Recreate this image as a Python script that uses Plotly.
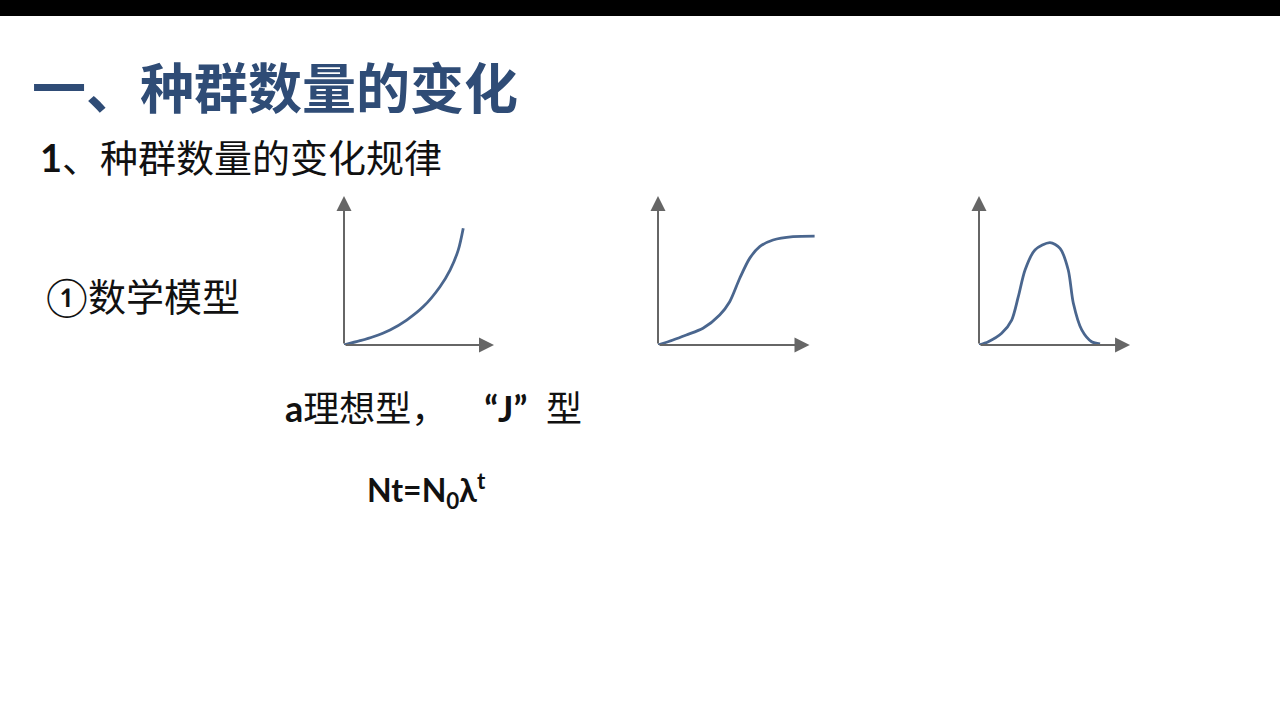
import plotly.graph_objects as go

W, H = 1280, 720

# ---- data (axis units) ----
j_x = [0, 1.07, 1.95, 3.07, 4.18, 5.29, 6.40, 7.07, 7.62, 7.95]
j_y = [0, 0.29, 0.56, 1.02, 1.69, 2.60, 3.95, 5.08, 6.44, 7.91]

s_x = [0, 1.00, 1.89, 3.00, 4.11, 4.78, 5.45, 6.11, 6.78, 7.67, 9.00, 10.44]
s_y = [0, 0.34, 0.68, 1.13, 2.03, 2.93, 4.52, 5.87, 6.66, 7.11, 7.34, 7.38]

b_x = [0, 0.62, 1.51, 2.18, 2.62, 3.07, 3.73, 4.73, 5.40, 5.95, 6.29, 6.85, 7.51, 8.07]
b_y = [0, 0.22, 0.79, 1.69, 3.27, 5.08, 6.44, 6.93, 6.55, 5.08, 2.83, 1.02, 0.22, 0.07]

title_text = "一、种群数量的变化"
subtitle_text = "<b>1</b>、种群数量的变化规律"
model_text = "①数学模型"
type_text = "<b>a</b>理想型，    <b>“J”</b>  型"
formula_text = "<b>Nt=N<sub>0</sub>λ<sup>t</sup></b>"

# ---- layout geometry ----
origins_px = [344, 658, 979]
arrow_tip_x = [10.0, 10.1, 10.07]
origin_py = 345
panel_w_px = 165
panel_h_px = 155
x_range = [0, 11]
y_range = [0, 10.5]
arrow_tip_y = 10.1

line_color = "#4a668e"
axis_color = "#666666"

fig = go.Figure()
series = [(j_x, j_y), (s_x, s_y), (b_x, b_y)]
for i, (xs, ys) in enumerate(series):
    ax_id = "" if i == 0 else str(i + 1)
    fig.add_trace(go.Scatter(
        x=xs, y=ys, mode="lines",
        line=dict(color=line_color, width=2.8, shape="spline", smoothing=0.8),
        xaxis="x" + ax_id, yaxis="y" + ax_id, showlegend=False, hoverinfo="skip"))
    ox = origins_px[i]
    xd = [ox / W, (ox + panel_w_px) / W]
    yd = [1 - origin_py / H, 1 - (origin_py - panel_h_px) / H]
    common = dict(showgrid=False, zeroline=False, showticklabels=False,
                  ticks="", showline=False, fixedrange=True)
    fig.update_layout(**{
        "xaxis" + ax_id: dict(domain=xd, range=x_range, anchor="y" + ax_id, **common),
        "yaxis" + ax_id: dict(domain=yd, range=y_range, anchor="x" + ax_id, **common),
    })
    # axes with arrowheads
    for (hx, hy) in [(arrow_tip_x[i], 0), (0, arrow_tip_y)]:
        fig.add_annotation(
            x=hx, y=hy, ax=0, ay=0,
            xref="x" + ax_id, yref="y" + ax_id,
            axref="x" + ax_id, ayref="y" + ax_id,
            showarrow=True, arrowhead=2, arrowsize=1.5, arrowwidth=2,
            arrowcolor=axis_color, text="", standoff=0, startstandoff=0)

cjk = "Lato, Noto Sans CJK SC, sans-serif"


def px_ann(text, x, y, size, color, family=cjk):
    fig.add_annotation(text=text, x=x / W, y=1 - y / H, xref="paper", yref="paper",
                       xanchor="left", yanchor="middle", showarrow=False,
                       font=dict(size=size, color=color, family=family))


px_ann("<b>" + title_text + "</b>", 30, 88, 54, "#2f4c76")
px_ann(subtitle_text, 38, 157, 38, "#111111")
px_ann(model_text, 44, 296, 38, "#111111")
px_ann(type_text, 283, 408, 36, "#111111")
px_ann(formula_text, 365, 490, 32, "#111111")

fig.add_shape(type="rect", xref="paper", yref="paper", x0=0, x1=1,
              y0=1 - 16 / H, y1=1, fillcolor="#000000", line=dict(width=0), layer="above")

fig.update_layout(width=W, height=H, margin=dict(l=0, r=0, t=0, b=0),
                  paper_bgcolor="white", plot_bgcolor="white")

fig.write_html("out.html", config={"displayModeBar": False},
               post_script="document.body.style.margin='0px';document.body.style.overflow='hidden';")
